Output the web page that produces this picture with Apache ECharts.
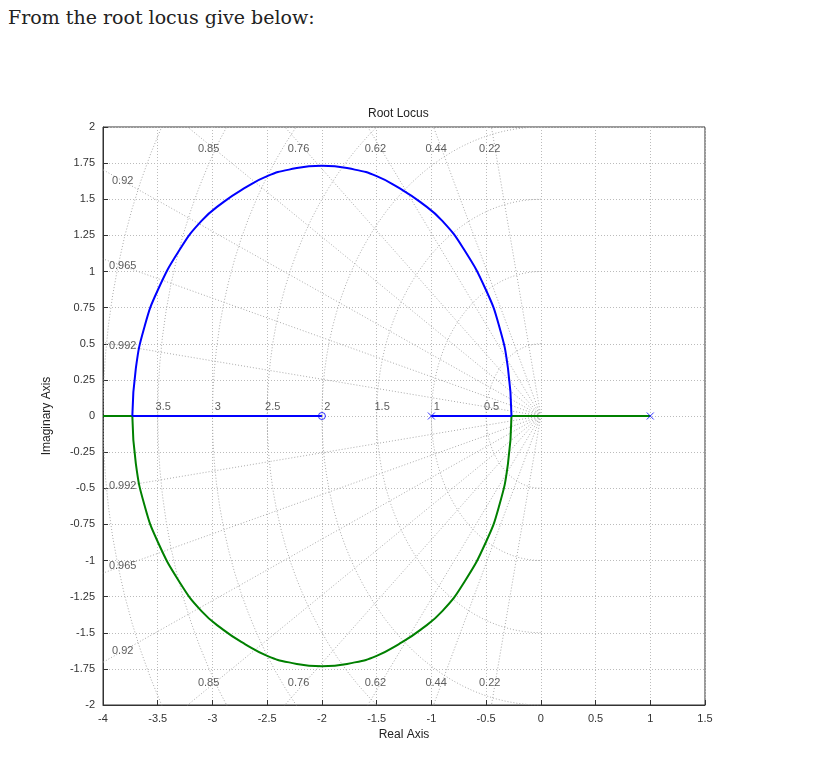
<!DOCTYPE html>
<html><head><meta charset="utf-8">
<script src="https://cdn.jsdelivr.net/npm/echarts@6/dist/echarts.min.js"></script>
<style>body{margin:0;background:#fff}#t{position:absolute;left:8px;top:6px;font:19px "DejaVu Serif",serif;color:#222}#c{width:837px;height:765px}</style>
</head><body><div id="t">From the root locus give below:</div><div id="c"></div>
<script>
// upper branch (blue)
const upperX=[-3.732,-3.70,-3.62,-3.5,-3.3,-3.1,-2.9,-2.7,-2.5,-2.3,-2.0,-1.7,-1.5,-1.3,-1.1,-0.9,-0.7,-0.5,-0.38,-0.3,-0.268];
const upperY=[0,0.33,0.62,0.87,1.15,1.35,1.48,1.58,1.66,1.705,1.732,1.705,1.66,1.58,1.48,1.35,1.15,0.87,0.62,0.33,0];
const lowerX=upperX;
const lowerY=[0,-0.33,-0.62,-0.87,-1.15,-1.35,-1.48,-1.58,-1.66,-1.705,-1.732,-1.705,-1.66,-1.58,-1.48,-1.35,-1.15,-0.87,-0.62,-0.33,0];
const blueRealSegs=[[-3.732,-2],[-1,-0.268]];
const greenRealSegs=[[-4,-3.732],[-0.268,1]];
const poles=[-1,1];
const zeros=[-2];
const zetas=[0.22,0.44,0.62,0.76,0.85,0.92,0.965,0.992];
const wns=[0.5,1,1.5,2,2.5,3,3.5];
const wnLabels=['0.5','1','1.5','2','2.5','3','3.5'];

const grey={color:'#aaa',type:[1,2],width:1};
const series=[];
zetas.forEach(z=>{const s=Math.sqrt(1-z*z)/z;
 [1,-1].forEach(sg=>series.push({type:'line',silent:true,symbol:'none',lineStyle:grey,data:[[0,0],[-6,sg*6*s]],z:1}));});
for(let r=0.5;r<=4.01;r+=0.5){const d=[];for(let a=90;a<=270;a+=3){d.push([r*Math.cos(a*Math.PI/180),r*Math.sin(a*Math.PI/180)]);}
 series.push({type:'line',silent:true,symbol:'none',lineStyle:grey,data:d,z:1});}
const lab=[];
zetas.forEach(z=>{const s=Math.sqrt(1-z*z)/z;
 if(z<0.9){lab.push([-1.85/s-0.05,1.85,String(z)]);lab.push([-1.85/s-0.05,-1.85,String(z)]);}
 else{lab.push([-3.82,3.82*s,String(z)]);lab.push([-3.82,-3.82*s,String(z)]);}});
wns.forEach((w,i)=>lab.push([-w+0.05,0.06,wnLabels[i]]));
series.push({type:'scatter',symbolSize:0,silent:true,data:lab,label:{show:true,position:'inside',formatter:p=>p.data[2],color:'#333',fontSize:11,fontFamily:'Liberation Sans'},z:3});
const B='#0000ff',G='#008000';
series.push({type:'line',symbol:'none',smooth:true,lineStyle:{color:B,width:2},data:upperX.map((x,i)=>[x,upperY[i]]),z:5});
series.push({type:'line',symbol:'none',smooth:true,lineStyle:{color:G,width:2},data:lowerX.map((x,i)=>[x,lowerY[i]]),z:5});
blueRealSegs.forEach(s=>series.push({type:'line',symbol:'none',lineStyle:{color:B,width:2},data:[[s[0],0],[s[1],0]],z:6}));
greenRealSegs.forEach(s=>series.push({type:'line',symbol:'none',lineStyle:{color:G,width:2},data:[[s[0],0],[s[1],0]],z:4}));
series.push({type:'scatter',symbol:'path://M0,0L10,10M10,0L0,10',symbolSize:7,itemStyle:{color:'none',borderColor:B,borderWidth:1},data:poles.map(p=>[p,0]),z:7});
series.push({type:'scatter',symbol:'circle',symbolSize:7,itemStyle:{color:'none',borderColor:B,borderWidth:1},data:zeros.map(p=>[p,0]),z:7});

const ax={axisLine:{show:true,onZero:false,lineStyle:{color:'#333'}},axisTick:{inside:true,lineStyle:{color:'#333'}},axisLabel:{color:'#333',fontSize:11,fontFamily:'Liberation Sans'},splitLine:{show:true,lineStyle:{color:'#bbb',type:[1,2]}},nameLocation:'middle',nameTextStyle:{color:'#222',fontSize:12,fontFamily:'Liberation Sans'}};
echarts.init(document.getElementById('c')).setOption({animation:false,
 title:{text:'Root Locus',top:103,left:363,textStyle:{fontSize:12,fontWeight:'normal',color:'#222',fontFamily:'Liberation Sans'}},
 grid:{left:103,right:132,top:127,bottom:60,show:true,borderColor:'#333'},
 xAxis:Object.assign({},ax,{type:'value',min:-4,max:1.5,interval:0.5,name:'Real Axis',nameGap:22,axisLabel:Object.assign({},ax.axisLabel,{formatter:v=>String(v)})}),
 yAxis:Object.assign({},ax,{type:'value',min:-2,max:2,interval:0.25,name:'Imaginary Axis',nameGap:50,axisLabel:Object.assign({},ax.axisLabel,{formatter:v=>String(v)})}),
 series});
</script></body></html>
